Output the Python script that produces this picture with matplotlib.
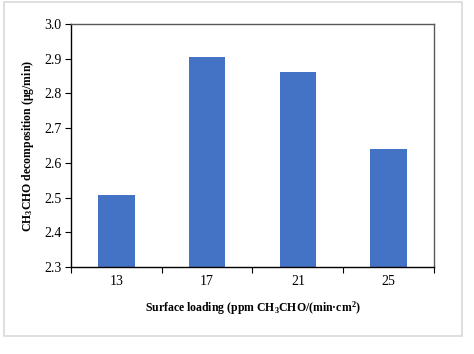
import matplotlib.pyplot as plt
from matplotlib.patches import Rectangle

loading = ['13', '17', '21', '25']
decomposition = [2.507, 2.904, 2.861, 2.640]

plt.rcParams['font.family'] = ['Liberation Serif', 'DejaVu Serif']
plt.rcParams['mathtext.fontset'] = 'custom'
plt.rcParams['mathtext.rm'] = 'Liberation Serif:bold'
plt.rcParams['mathtext.bf'] = 'Liberation Serif:bold'
plt.rcParams['mathtext.default'] = 'bf'

fig = plt.figure(figsize=(4.74, 3.54), dpi=100)
fig.patches.append(Rectangle((4 / 474, 1 - 336 / 354), 458 / 474, 334 / 354,
                             transform=fig.transFigure, fill=False,
                             edgecolor='#d9d9d9', linewidth=1.2))
ax = fig.add_axes([71 / 474, 1 - 267 / 354, 363 / 474, 243 / 354])

x = range(len(loading))
ax.bar(x, decomposition, width=0.4, color='#4472C4')

ax.set_xlim(-0.5, len(loading) - 0.5)
ax.set_ylim(2.3, 3.0)
ax.set_yticks([2.3, 2.4, 2.5, 2.6, 2.7, 2.8, 2.9, 3.0])
ax.set_yticklabels(['2.3', '2.4', '2.5', '2.6', '2.7', '2.8', '2.9', '3.0'])
ax.set_xticks([0.5 + i for i in range(-1, len(loading))], minor=False)
ax.set_xticklabels([])
ax.set_xticks(list(x), minor=True)
ax.set_xticklabels(loading, minor=True)
ax.tick_params(axis='x', which='minor', length=0, pad=6, labelsize=10)
ax.tick_params(axis='x', which='major', direction='out', length=4, width=0.8)
ax.tick_params(axis='y', direction='out', length=4, width=0.8, labelsize=10, pad=3)

for side in ['left', 'bottom']:
    ax.spines[side].set_color('black')
    ax.spines[side].set_linewidth(1.0)
for side in ['top', 'right']:
    ax.spines[side].set_color('#595959')
    ax.spines[side].set_linewidth(1.0)

ax.set_xlabel(r'Surface loading (ppm CH$_3$CHO/(min·cm$^2$)', fontsize=8.5,
              fontweight='bold', labelpad=8)
ax.set_ylabel(r'CH$_3$CHO decomposition (μg/min)', fontsize=8.5,
              fontweight='bold', labelpad=6)

fig.savefig('out.png', dpi=100)
